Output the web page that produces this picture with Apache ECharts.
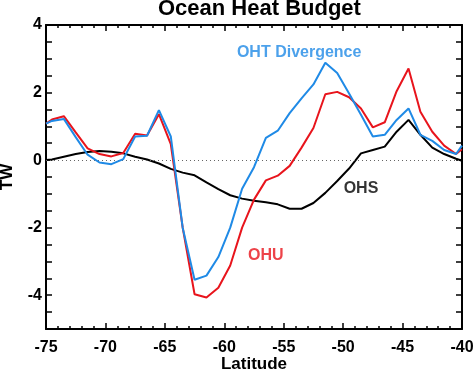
<!DOCTYPE html>
<html>
<head>
<meta charset="utf-8">
<script src="https://cdn.jsdelivr.net/npm/echarts@6/dist/echarts.min.js"></script>
<style>
html,body{margin:0;padding:0;background:#fff;}
#c{width:474px;height:371px;}
</style>
</head>
<body>
<div id="c"></div>
<script>
// Latitude (degrees)
var latitude = [-75, -74.5, -73.5, -72.5, -71.5, -70.5, -69.5, -68.5, -67.5, -66.5, -65.5, -64.5,
  -63.5, -62.5, -61.5, -60.5, -59.5, -58.5, -57.5, -56.5, -55.5, -54.5, -53.5, -52.5, -51.5,
  -50.5, -49.5, -48.5, -47.5, -46.5, -45.5, -44.5, -43.5, -42.5, -41.5, -40.5, -40];
// OHU (TW)
var ohu = [1.08, 1.2, 1.30, 0.82, 0.35, 0.18, 0.11, 0.21, 0.78, 0.73, 1.36, 0.47,
  -2.0, -3.97, -4.07, -3.78, -3.12, -2.0, -1.17, -0.6, -0.46, -0.17, 0.37, 0.95, 1.95,
  2.02, 1.86, 1.53, 0.97, 1.12, 2.04, 2.71, 1.43, 0.84, 0.43, 0.18, 0.32];
// OHT Divergence (TW)
var ohtDiv = [1.08, 1.16, 1.22, 0.68, 0.16, -0.07, -0.12, 0.03, 0.70, 0.72, 1.48, 0.70,
  -2.0, -3.54, -3.42, -2.87, -2.0, -0.85, -0.21, 0.66, 0.87, 1.39, 1.83, 2.24, 2.88,
  2.58, 1.97, 1.34, 0.70, 0.75, 1.19, 1.53, 0.75, 0.57, 0.30, 0.18, 0.43];
// OHS (TW)
var ohs = [0.0, 0.02, 0.10, 0.18, 0.24, 0.27, 0.25, 0.20, 0.10, 0.02, -0.10, -0.26,
  -0.37, -0.45, -0.66, -0.86, -1.04, -1.14, -1.20, -1.25, -1.31, -1.44, -1.44, -1.27, -0.97,
  -0.62, -0.25, 0.20, 0.30, 0.40, 0.84, 1.19, 0.75, 0.37, 0.18, 0.04, -0.02];
// Tick labels
var xTickLabels = [-75, -70, -65, -60, -55, -50, -45, -40];
var yTickLabels = [-4, -2, 0, 2, 4];
// Curve annotations [latitude, TW, text]
var annLabels = ['OHT Divergence', 'OHS', 'OHU'];
var annLat = [-53.7, -48.5, -56.5];
var annVal = [3.17, -0.85, -2.84];

var BLUE = '#1f8ae6', RED = '#e8141c', BLACK = '#000';
var FONT = 'Liberation Sans, Arial, Helvetica, sans-serif';

function pairs(ys) { return latitude.map(function (x, i) { return [x, ys[i]]; }); }

var chart = echarts.init(document.getElementById('c'), null, {renderer: 'canvas'});

var xBase = {
  type: 'value', min: -75, max: -40, interval: 5,
  axisLine: {show: true, onZero: false, lineStyle: {color: '#000', width: 2}},
  axisTick: {show: true, inside: true, length: 6, lineStyle: {color: '#000', width: 1.5}},
  minorTick: {show: true, splitNumber: 5, length: 3, lineStyle: {color: '#000', width: 1.5}},
  splitLine: {show: false}, minorSplitLine: {show: false}
};
var yBase = {
  type: 'value', min: -5, max: 4, interval: 1,
  axisLine: {show: true, onZero: false, lineStyle: {color: '#000', width: 2}},
  axisTick: {show: true, inside: true, length: 6, lineStyle: {color: '#000', width: 1.5}},
  minorTick: {show: true, splitNumber: 2, length: 6, lineStyle: {color: '#000', width: 1.5}},
  splitLine: {show: false}, minorSplitLine: {show: false}
};

var option = {
  animation: false,
  backgroundColor: '#fff',
  textStyle: {fontFamily: FONT},
  title: {
    text: 'Ocean Heat Budget', left: 153, top: -7,
    textStyle: {fontFamily: FONT, fontSize: 22, fontWeight: 'bold', color: '#000'}
  },
  grid: {left: 46, right: 12, top: 25, bottom: 42, containLabel: false, outerBoundsMode: 'none'},
  xAxis: [
    Object.assign({}, xBase, {
      position: 'bottom',
      name: 'Latitude', nameLocation: 'middle', nameGap: 27, nameMoveOverlap: false,
      nameTextStyle: {fontFamily: FONT, fontSize: 17, fontWeight: 'bold', color: '#000'},
      axisLabel: {show: true, margin: 11, fontFamily: FONT, fontSize: 16, fontWeight: 'bold', color: '#000',
        showMinLabel: true, showMaxLabel: true, customValues: xTickLabels}
    }),
    Object.assign({}, xBase, {position: 'top', axisLabel: {show: false}})
  ],
  yAxis: [
    Object.assign({}, yBase, {
      position: 'left',
      name: 'TW', nameLocation: 'middle', nameGap: 30, nameRotate: 90, nameMoveOverlap: false,
      nameTextStyle: {fontFamily: FONT, fontSize: 17, fontWeight: 'bold', color: '#000'},
      axisLabel: {show: true, margin: 4, fontFamily: FONT, fontSize: 16, fontWeight: 'bold', color: '#000',
        customValues: yTickLabels}
    }),
    Object.assign({}, yBase, {position: 'right', axisLabel: {show: false}})
  ],
  series: [
    {
      name: 'OHS', type: 'line', data: pairs(ohs), symbol: 'none', clip: true,
      lineStyle: {color: BLACK, width: 2}, z: 3,
      markLine: {
        silent: true, symbol: 'none', label: {show: false},
        lineStyle: {color: '#666', type: [1, 3], width: 1},
        data: [{yAxis: 0}]
      }
    },
    {
      name: 'OHU', type: 'line', data: pairs(ohu), symbol: 'none', clip: true,
      lineStyle: {color: RED, width: 2}, z: 4
    },
    {
      name: 'OHT Divergence', type: 'line', data: pairs(ohtDiv), symbol: 'none', clip: true,
      lineStyle: {color: BLUE, width: 2}, z: 5
    },
    {
      type: 'scatter', symbolSize: 0, silent: true, z: 6,
      data: annLabels.map(function (t, i) {
        var col = i === 0 ? BLUE : (i === 1 ? BLACK : RED);
        return {
          value: [annLat[i], annVal[i]],
          label: {show: true, position: 'inside', formatter: t,
            fontFamily: FONT, fontSize: 16, fontWeight: 'bold', color: col}
        };
      })
    }
  ]
};
chart.setOption(option);
</script>
</body>
</html>
